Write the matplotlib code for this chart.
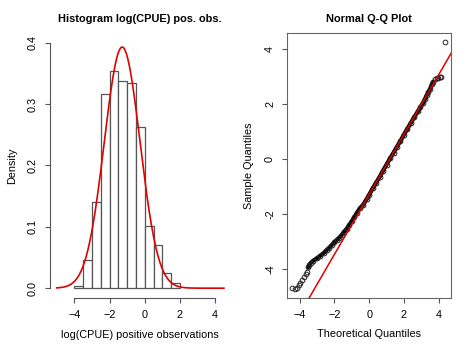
import numpy as np
import matplotlib.pyplot as plt

plt.rcParams['font.family'] = ['Liberation Sans', 'DejaVu Sans']
plt.rcParams['font.size'] = 7.8

# histogram of log(CPUE), bins of width 0.5
bin_left = [-4.0, -3.5, -3.0, -2.5, -2.0, -1.5, -1.0, -0.5, 0.0, 0.5, 1.0, 1.5]
bin_density = [0.004, 0.046, 0.141, 0.316, 0.354, 0.338, 0.334, 0.262,
               0.101, 0.070, 0.025, 0.008]
bin_width = 0.5

# fitted normal curve
fit_mean = -1.28
fit_sd = 1.015
curve_from, curve_to = -5.0, 4.5

# normal Q-Q points (theoretical, sample)
qq_theo = [-4.45, -4.27, -4.15, -4.05, -3.95, -3.85, -3.75, -3.65, -3.57,
           -3.50, -3.45, -3.35, -3.20, -3.00, -2.80, -2.60, -2.45, -2.30,
           -2.16, -2.00, -1.87, -1.72, -1.58, -1.45, -1.30, -1.15, -1.00,
           -0.85, -0.72, -0.53, -0.35, -0.15, 0.00, 0.20, 0.40, 0.60, 0.80,
           1.00, 1.20, 1.40, 1.60, 1.80, 2.00, 2.20, 2.40, 2.60, 2.80, 2.95,
           3.10, 3.20, 3.30, 3.40, 3.50, 3.60, 3.68,
           3.81, 3.90, 3.96, 4.05, 4.12, 4.38]
qq_samp = [-4.67, -4.72, -4.66, -4.58, -4.48, -4.38, -4.28, -4.18, -4.08,
           -3.92, -3.84, -3.76, -3.68, -3.60, -3.50, -3.40, -3.30, -3.22,
           -3.12, -3.02, -2.93, -2.85, -2.75, -2.64, -2.53, -2.39, -2.25,
           -2.11, -1.96, -1.78, -1.66, -1.45, -1.29, -1.06, -0.85, -0.64, -0.41,
           -0.19, 0.03, 0.24, 0.46, 0.67, 0.90, 1.11, 1.33, 1.54, 1.74, 1.90,
           2.05, 2.18, 2.32, 2.44, 2.55, 2.72, 2.82,
           2.92, 2.96, 2.97, 2.99, 3.00, 4.25]
dense_from, dense_to = 9, 55   # index range where points overlap into a band
qq_intercept = -1.28
qq_slope = 1.09

fig = plt.figure(figsize=(4.74, 3.48), dpi=100)
ax1 = fig.add_axes([0.1055, 0.1437, 0.381, 0.7615])
ax2 = fig.add_axes([0.6055, 0.1445, 0.3466, 0.7606])

# ---- histogram ----
ax1.bar(bin_left, bin_density, width=bin_width, align='edge',
        facecolor='white', edgecolor='#555555', linewidth=0.9)
xs = np.linspace(curve_from, curve_to, 300)
ys = np.exp(-0.5 * ((xs - fit_mean) / fit_sd) ** 2) / (fit_sd * np.sqrt(2 * np.pi))
ax1.plot(xs, ys, color='#e00000', lw=1.2)
ax1.set_xlim(-5.38, 4.88)
ax1.set_ylim(-0.016, 0.416)
for s in ['top', 'right']:
    ax1.spines[s].set_visible(False)
ax1.spines['bottom'].set_bounds(-4, 4)
ax1.spines['left'].set_bounds(0, 0.4)
ax1.set_xticks([-4, -2, 0, 2, 4])
ax1.set_yticks([0, 0.1, 0.2, 0.3, 0.4])
ax1.set_yticklabels(['0.0', '0.1', '0.2', '0.3', '0.4'], rotation=90, va='center')
ax1.set_xlabel('log(CPUE) positive observations', labelpad=7)
ax1.set_ylabel('Density', labelpad=8)
ax1.set_title('Histogram log(CPUE) pos. obs.', fontweight='bold', fontsize=7.9, pad=8)

# ---- Q-Q plot ----
ax2.plot(qq_theo[dense_from:dense_to], qq_samp[dense_from:dense_to],
         color='black', lw=3.0, solid_capstyle='round')
ax2.plot(qq_theo, qq_samp, 'o', ms=3.4, mfc='none', mec='#222222', mew=0.7)
ax2.axline((0, qq_intercept), slope=qq_slope, color='#e00000', lw=1.1)
ax2.set_xlim(-4.72, 4.72)
ax2.set_ylim(-5.03, 4.59)
ax2.set_xticks([-4, -2, 0, 2, 4])
ax2.set_yticks([-4, -2, 0, 2, 4])
ax2.set_yticklabels(['-4', '-2', '0', '2', '4'], rotation=90, va='center')
ax2.set_xlabel('Theoretical Quantiles', labelpad=7)
ax2.set_ylabel('Sample Quantiles', labelpad=8)
ax2.set_title('Normal Q-Q Plot', fontweight='bold', fontsize=7.9, pad=8)
for s in ax2.spines.values():
    s.set_color('#666666')

for ax in (ax1, ax2):
    ax.tick_params(direction='out', length=3.6, width=0.8, color='#555555', pad=5)
    for s in ax.spines.values():
        s.set_linewidth(0.8)
ax1.spines['left'].set_color('#555555')
ax1.spines['bottom'].set_color('#555555')

fig.savefig('out.png', dpi=100)
